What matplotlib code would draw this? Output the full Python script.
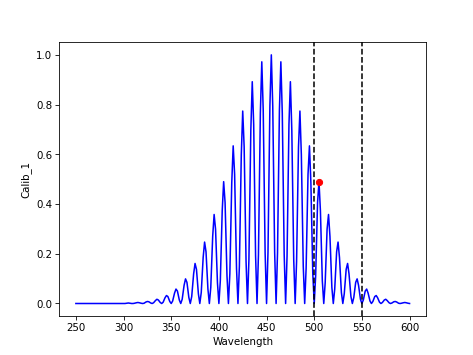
import matplotlib
matplotlib.use("Agg")
import matplotlib.pyplot as plt

# espectro (flat hasta 300, luego franjas cada 10 nm)
wavelength = [250,
    300, 301.5, 303.5, 305, 306.5, 308.5,
    310, 311.5, 313.5, 315, 316.5, 318.5,
    320, 321.5, 323.5, 325, 326.5, 328.5,
    330, 331.5, 333.5, 335, 336.5, 338.5,
    340, 341.5, 343.5, 345, 346.5, 348.5,
    350, 351.5, 353.5, 355, 356.5, 358.5,
    360, 361.5, 363.5, 365, 366.5, 368.5,
    370, 371.5, 373.5, 375, 376.5, 378.5,
    380, 381.5, 383.5, 385, 386.5, 388.5,
    390, 391.5, 393.5, 395, 396.5, 398.5,
    400, 401.5, 403.5, 405, 406.5, 408.5,
    410, 411.5, 413.5, 415, 416.5, 418.5,
    420, 421.5, 423.5, 425, 426.5, 428.5,
    430, 431.5, 433.5, 435, 436.5, 438.5,
    440, 441.5, 443.5, 445, 446.5, 448.5,
    450, 451.5, 453.5, 455, 456.5, 458.5,
    460, 461.5, 463.5, 465, 466.5, 468.5,
    470, 471.5, 473.5, 475, 476.5, 478.5,
    480, 481.5, 483.5, 485, 486.5, 488.5,
    490, 491.5, 493.5, 495, 496.5, 498.5,
    500, 501.5, 503.5, 505, 506.5, 508.5,
    510, 511.5, 513.5, 515, 516.5, 518.5,
    520, 521.5, 523.5, 525, 526.5, 528.5,
    530, 531.5, 533.5, 535, 536.5, 538.5,
    540, 541.5, 543.5, 545, 546.5, 548.5,
    550, 551.5, 553.5, 555, 556.5, 558.5,
    560, 561.5, 563.5, 565, 566.5, 568.5,
    570, 571.5, 573.5, 575, 576.5, 578.5,
    580, 581.5, 583.5, 585, 586.5, 588.5,
    590, 591.5, 593.5, 595, 596.5, 598.5,
    600]

calib_1 = [0.0,
    0, 0.000, 0.001, 0.002, 0.001, 0.000,
    0, 0.001, 0.003, 0.004, 0.003, 0.001,
    0, 0.001, 0.006, 0.008, 0.007, 0.002,
    0, 0.003, 0.012, 0.017, 0.014, 0.004,
    0, 0.005, 0.023, 0.032, 0.028, 0.008,
    0, 0.010, 0.042, 0.058, 0.050, 0.014,
    0, 0.017, 0.073, 0.099, 0.085, 0.024,
    0, 0.028, 0.119, 0.161, 0.137, 0.039,
    0, 0.044, 0.185, 0.247, 0.208, 0.058,
    0, 0.065, 0.270, 0.358, 0.299, 0.083,
    0, 0.091, 0.373, 0.490, 0.406, 0.111,
    0, 0.120, 0.486, 0.634, 0.520, 0.141,
    0, 0.150, 0.598, 0.774, 0.630, 0.169,
    0, 0.176, 0.696, 0.892, 0.720, 0.191,
    0, 0.196, 0.765, 0.972, 0.778, 0.204,
    0, 0.205, 0.794, 1.000, 0.794, 0.205,
    0, 0.204, 0.778, 0.972, 0.765, 0.196,
    0, 0.191, 0.720, 0.892, 0.696, 0.176,
    0, 0.169, 0.630, 0.774, 0.598, 0.150,
    0, 0.141, 0.520, 0.634, 0.486, 0.120,
    0, 0.111, 0.406, 0.490, 0.373, 0.091,
    0, 0.083, 0.299, 0.358, 0.270, 0.065,
    0, 0.058, 0.208, 0.247, 0.185, 0.044,
    0, 0.039, 0.137, 0.161, 0.119, 0.028,
    0, 0.024, 0.085, 0.099, 0.073, 0.017,
    0, 0.014, 0.050, 0.058, 0.042, 0.010,
    0, 0.008, 0.028, 0.032, 0.023, 0.005,
    0, 0.004, 0.014, 0.017, 0.012, 0.003,
    0, 0.002, 0.007, 0.008, 0.006, 0.001,
    0, 0.001, 0.003, 0.004, 0.003, 0.001,
    0.0]

punto_x = 505
punto_y = 0.49
lineas = [500, 550]

fig = plt.figure(figsize=(6.4, 4.8), dpi=74)
plt.plot(wavelength, calib_1, 'b-')
plt.plot(punto_x, punto_y, 'ro')
for l in lineas:
    plt.axvline(l, color='k', linestyle='--')
plt.xlabel('Wavelength')
plt.ylabel('Calib_1')
plt.savefig('out.png', dpi=74)
